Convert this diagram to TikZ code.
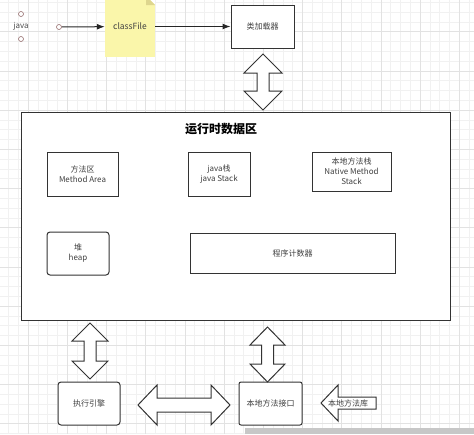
\documentclass[tikz,border=0pt]{standalone}
\usepackage{fontspec}
\setmainfont{Noto Sans CJK SC}
\usetikzlibrary{arrows.meta}
\definecolor{gridminor}{RGB}{241,241,241}
\definecolor{gridmajor}{RGB}{226,226,226}
\definecolor{notefill}{RGB}{250,246,170}
\definecolor{notefold}{RGB}{222,214,142}
\definecolor{handle}{RGB}{150,110,110}
\begin{document}
\begin{tikzpicture}[x=1pt,y=-1pt,
    box/.style={draw=black!80,line width=1pt,fill=white,inner sep=0pt,align=center,
                text=black!75,font=\fontsize{8}{10}\selectfont},
    hollow/.style={draw=black!80,line width=1pt,fill=white,line join=miter},
    dot/.style={draw=handle,circle,fill=white,inner sep=0pt,minimum size=5pt,line width=0.6pt}]
    \useasboundingbox (0,0) rectangle (474,434);
    % grid
    \begin{scope}
        \clip (0,0) rectangle (474,434);
        \foreach \x in {8.4,18.2,...,474} \draw[gridminor,line width=0.5pt] (\x,0) -- (\x,434);
        \foreach \y in {2.3,12.1,...,434} \draw[gridminor,line width=0.5pt] (0,\y) -- (474,\y);
        \foreach \x in {28,67.2,...,474} \draw[gridmajor,line width=0.5pt] (\x,0) -- (\x,434);
        \foreach \y in {31.7,70.9,...,434} \draw[gridmajor,line width=0.5pt] (0,\y) -- (474,\y);
    \end{scope}

    \node[text=black!70,font=\fontsize{8}{10}\selectfont] (java) at (21,26) {java};
    \node[dot] (jtop) at (21,14) {};
    \node[dot] (jbot) at (21,39) {};
    \node[dot] (jsrc) at (59,27) {};

    \node[fill=notefill,minimum width=50pt,minimum height=61pt,inner sep=0pt,
          text=black!75,font=\fontsize{8.5}{10}\selectfont] (cf) at (130,26.5) {classFile};
    \fill[white] (146,-4) -- (155,-4) -- (155,5) -- cycle;
    \fill[notefold] (146,-4) -- (146,5) -- (155,5) -- cycle;

    \node[box,minimum width=63pt,minimum height=43pt] (loader) at (262.5,26.5) {类加载器};

    \node[box,minimum width=429pt,minimum height=208pt] (rt) at (235.5,216) {};
    \node[font=\bfseries\fontsize{12}{14}\selectfont] (rttitle) at (221,129) {运行时数据区};
    \node[box,minimum width=71pt,minimum height=44pt] (ma) at (82.5,174) {方法区\\Method Area};
    \node[box,minimum width=62pt,minimum height=44pt] (js) at (219,174) {java栈\\java Stack};
    \node[box,minimum width=79pt,minimum height=39pt] (ns) at (351.5,171.5) {本地方法栈\\Native Method\\Stack};
    \node[box,rounded corners=3pt,minimum width=62pt,minimum height=43pt] (heap) at (78,253.5) {堆\\heap};
    \node[box,minimum width=205pt,minimum height=40pt] (pc) at (292.5,253) {程序计数器};

    \node[box,rounded corners=3pt,minimum width=62pt,minimum height=43pt] (engine) at (89,403.5) {执行引擎};
    \node[box,rounded corners=2pt,minimum width=63pt,minimum height=43pt] (nif) at (270.5,403.5) {本地方法接口};

    % hollow arrows
    \draw[hollow] (263,54) -- ++(19,19) -- ++(-13,0) -- ++(0,18) -- ++(13,0) -- ++(-19,19)
                  -- ++(-19,-19) -- ++(13,0) -- ++(0,-18) -- ++(-13,0) -- cycle;
    \draw[hollow] (90,323) -- ++(18,18) -- ++(-12,0) -- ++(0,20) -- ++(12,0) -- ++(-18,18)
                  -- ++(-18,-18) -- ++(12,0) -- ++(0,-20) -- ++(-12,0) -- cycle;
    \draw[hollow] (267.5,327) -- ++(17.5,18) -- ++(-11.5,0) -- ++(0,19) -- ++(11.5,0) -- ++(-17.5,18)
                  -- ++(-17.5,-18) -- ++(11.5,0) -- ++(0,-19) -- ++(-11.5,0) -- cycle;
    \draw[hollow] (138,405) -- ++(19,-20) -- ++(0,13) -- ++(54,0) -- ++(0,-13) -- ++(19,20)
                  -- ++(-19,20) -- ++(0,-13) -- ++(-54,0) -- ++(0,13) -- cycle;
    \draw[hollow] (321,403) -- ++(17,-18) -- ++(0,12) -- ++(38,0) -- ++(0,12) -- ++(-38,0)
                  -- ++(0,12) -- cycle;
    \node[text=black!75,font=\fontsize{8}{10}\selectfont,inner sep=0pt] (nlib) at (348,403) {本地方法库};

    \fill[black!22] (245,428) rectangle (474,434);

    \draw[black!85,line width=1pt,-{Latex[length=8pt,width=6pt]}] (jsrc) -- (cf);
    \draw[black!85,line width=1pt,-{Latex[length=8pt,width=6pt]}] (cf) -- (loader);
\end{tikzpicture}
\end{document}
